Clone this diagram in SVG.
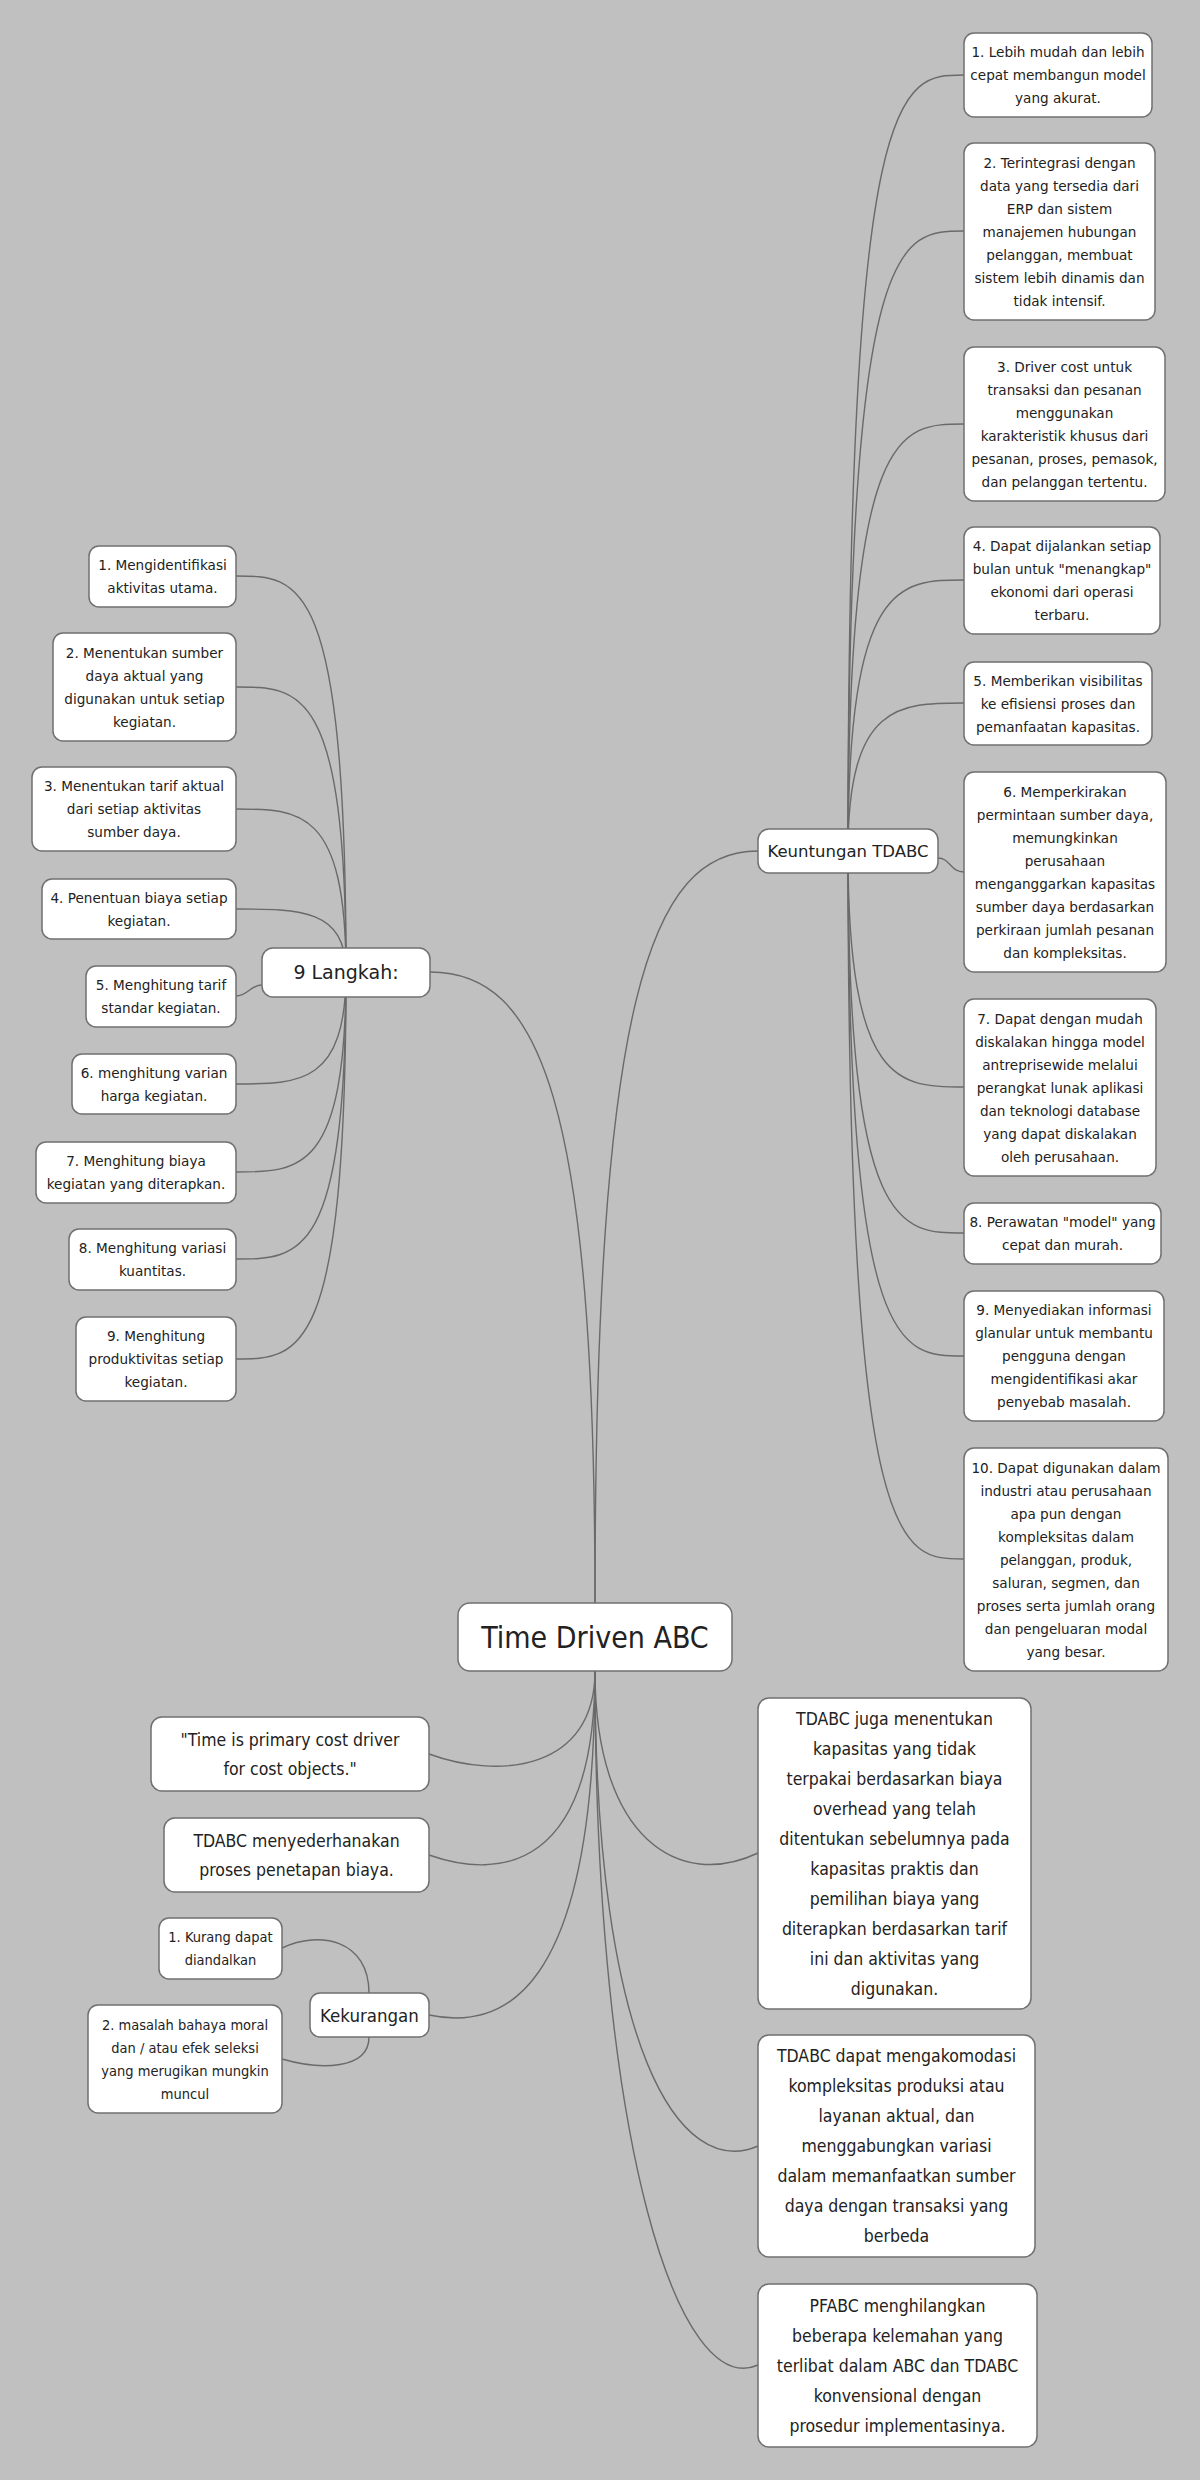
<svg xmlns="http://www.w3.org/2000/svg" width="1200" height="2480" viewBox="0 0 1200 2480">
<style>
.b{fill:#fff;stroke:#707070;stroke-width:1.5}
.c{fill:none;stroke:#6a6a6a;stroke-width:1.4}
.s{font-family:"DejaVu Sans",sans-serif;font-size:13.6px;fill:#222;text-anchor:middle}
.n{font-family:"DejaVu Sans Condensed","DejaVu Sans",sans-serif;font-size:17.5px;fill:#222;text-anchor:middle}
.k{font-family:"DejaVu Sans Condensed","DejaVu Sans",sans-serif;font-size:14.5px;fill:#222;text-anchor:middle}
</style>
<rect width="1200" height="2480" fill="#c0c0c0"/>
<g id="connectors">
<path class="c" d="M595 1603 C595 1000 650 851 758 851"/>
<path class="c" d="M595 1603 C595 1100 540 972 430 972"/>
<path class="c" d="M848 851 C848 75 900 75 964 75"/>
<path class="c" d="M848 851 C848 231 900 231 964 231"/>
<path class="c" d="M848 851 C848 424 900 424 964 424"/>
<path class="c" d="M848 851 C848 580 900 580 964 580"/>
<path class="c" d="M848 851 C848 703 900 703 964 703"/>
<path class="c" d="M938 858 C950 858 950 872 964 872"/>
<path class="c" d="M848 851 C848 1087 900 1087 964 1087"/>
<path class="c" d="M848 851 C848 1233 900 1233 964 1233"/>
<path class="c" d="M848 851 C848 1356 900 1356 964 1356"/>
<path class="c" d="M848 851 C848 1559 900 1559 964 1559"/>
<path class="c" d="M346 972 C346 576 300 576 236 576"/>
<path class="c" d="M346 972 C346 687 300 687 236 687"/>
<path class="c" d="M346 972 C346 809 300 809 236 809"/>
<path class="c" d="M346 972 C346 909 300 909 236 909"/>
<path class="c" d="M262 985 C250 985 248 996 236 996"/>
<path class="c" d="M346 972 C346 1084 300 1084 236 1084"/>
<path class="c" d="M346 972 C346 1172 300 1172 236 1172"/>
<path class="c" d="M346 972 C346 1259 300 1259 236 1259"/>
<path class="c" d="M346 972 C346 1359 300 1359 236 1359"/>
<path class="c" d="M595 1671 C595 1770 500 1780 429 1754"/>
<path class="c" d="M595 1671 C595 1870 500 1880 429 1855"/>
<path class="c" d="M595 1671 C595 2000 500 2030 429 2015"/>
<path class="c" d="M595 1671 C595 1840 680 1890 758 1853"/>
<path class="c" d="M595 1671 C595 2050 680 2180 758 2146"/>
<path class="c" d="M595 1671 C595 2150 680 2400 758 2365"/>
<path class="c" d="M369 1993 C369 1940 320 1930 282 1948"/>
<path class="c" d="M369 2037 C369 2070 320 2070 282 2059"/>
</g>
<g id="center"><rect class="b" x="458" y="1603" width="274" height="68" rx="12"/><text x="595" y="1648" font-family="DejaVu Sans Condensed,DejaVu Sans,sans-serif" font-size="30" fill="#222" text-anchor="middle">Time Driven ABC</text></g>
<g id="keuntungan"><rect class="b" x="758" y="829" width="180" height="44" rx="11"/><text x="848" y="857" font-family="DejaVu Sans,sans-serif" font-size="16.5" fill="#222" text-anchor="middle">Keuntungan TDABC</text></g>
<g id="langkah"><rect class="b" x="262" y="948" width="168" height="49" rx="11"/><text x="346" y="979" font-family="DejaVu Sans,sans-serif" font-size="19" fill="#222" text-anchor="middle">9 Langkah:</text></g>
<g id="r1"><rect class="b" x="964" y="33" width="188" height="84" rx="10"/><text class="s" x="1058" y="57">1. Lebih mudah dan lebih<tspan x="1058" dy="23">cepat membangun model</tspan><tspan x="1058" dy="23">yang akurat.</tspan></text></g>
<g id="r2"><rect class="b" x="964" y="143" width="191" height="177" rx="10"/><text class="s" x="1059.5" y="167.5">2. Terintegrasi dengan<tspan x="1059.5" dy="23">data yang tersedia dari</tspan><tspan x="1059.5" dy="23">ERP dan sistem</tspan><tspan x="1059.5" dy="23">manajemen hubungan</tspan><tspan x="1059.5" dy="23">pelanggan, membuat</tspan><tspan x="1059.5" dy="23">sistem lebih dinamis dan</tspan><tspan x="1059.5" dy="23">tidak intensif.</tspan></text></g>
<g id="r3"><rect class="b" x="964" y="347" width="201" height="154" rx="10"/><text class="s" x="1064.5" y="371.5">3. Driver cost untuk<tspan x="1064.5" dy="23">transaksi dan pesanan</tspan><tspan x="1064.5" dy="23">menggunakan</tspan><tspan x="1064.5" dy="23">karakteristik khusus dari</tspan><tspan x="1064.5" dy="23">pesanan, proses, pemasok,</tspan><tspan x="1064.5" dy="23">dan pelanggan tertentu.</tspan></text></g>
<g id="r4"><rect class="b" x="964" y="527" width="196" height="107" rx="10"/><text class="s" x="1062" y="551">4. Dapat dijalankan setiap<tspan x="1062" dy="23">bulan untuk "menangkap"</tspan><tspan x="1062" dy="23">ekonomi dari operasi</tspan><tspan x="1062" dy="23">terbaru.</tspan></text></g>
<g id="r5"><rect class="b" x="964" y="662" width="188" height="83" rx="10"/><text class="s" x="1058" y="685.5">5. Memberikan visibilitas<tspan x="1058" dy="23">ke efisiensi proses dan</tspan><tspan x="1058" dy="23">pemanfaatan kapasitas.</tspan></text></g>
<g id="r6"><rect class="b" x="964" y="772" width="202" height="200" rx="10"/><text class="s" x="1065" y="796.5">6. Memperkirakan<tspan x="1065" dy="23">permintaan sumber daya,</tspan><tspan x="1065" dy="23">memungkinkan</tspan><tspan x="1065" dy="23">perusahaan</tspan><tspan x="1065" dy="23">menganggarkan kapasitas</tspan><tspan x="1065" dy="23">sumber daya berdasarkan</tspan><tspan x="1065" dy="23">perkiraan jumlah pesanan</tspan><tspan x="1065" dy="23">dan kompleksitas.</tspan></text></g>
<g id="r7"><rect class="b" x="964" y="999" width="192" height="177" rx="10"/><text class="s" x="1060" y="1023.5">7. Dapat dengan mudah<tspan x="1060" dy="23">diskalakan hingga model</tspan><tspan x="1060" dy="23">antreprisewide melalui</tspan><tspan x="1060" dy="23">perangkat lunak aplikasi</tspan><tspan x="1060" dy="23">dan teknologi database</tspan><tspan x="1060" dy="23">yang dapat diskalakan</tspan><tspan x="1060" dy="23">oleh perusahaan.</tspan></text></g>
<g id="r8"><rect class="b" x="964" y="1203" width="197" height="61" rx="10"/><text class="s" x="1062.5" y="1227">8. Perawatan "model" yang<tspan x="1062.5" dy="23">cepat dan murah.</tspan></text></g>
<g id="r9"><rect class="b" x="964" y="1291" width="200" height="130" rx="10"/><text class="s" x="1064" y="1315">9. Menyediakan informasi<tspan x="1064" dy="23">glanular untuk membantu</tspan><tspan x="1064" dy="23">pengguna dengan</tspan><tspan x="1064" dy="23">mengidentifikasi akar</tspan><tspan x="1064" dy="23">penyebab masalah.</tspan></text></g>
<g id="r10"><rect class="b" x="964" y="1448" width="204" height="223" rx="10"/><text class="s" x="1066" y="1472.5">10. Dapat digunakan dalam<tspan x="1066" dy="23">industri atau perusahaan</tspan><tspan x="1066" dy="23">apa pun dengan</tspan><tspan x="1066" dy="23">kompleksitas dalam</tspan><tspan x="1066" dy="23">pelanggan, produk,</tspan><tspan x="1066" dy="23">saluran, segmen, dan</tspan><tspan x="1066" dy="23">proses serta jumlah orang</tspan><tspan x="1066" dy="23">dan pengeluaran modal</tspan><tspan x="1066" dy="23">yang besar.</tspan></text></g>
<g id="l1"><rect class="b" x="89" y="546" width="147" height="61" rx="10"/><text class="s" x="162.5" y="570">1. Mengidentifikasi<tspan x="162.5" dy="23">aktivitas utama.</tspan></text></g>
<g id="l2"><rect class="b" x="53" y="633" width="183" height="108" rx="10"/><text class="s" x="144.5" y="657.5">2. Menentukan sumber<tspan x="144.5" dy="23">daya aktual yang</tspan><tspan x="144.5" dy="23">digunakan untuk setiap</tspan><tspan x="144.5" dy="23">kegiatan.</tspan></text></g>
<g id="l3"><rect class="b" x="32" y="767" width="204" height="84" rx="10"/><text class="s" x="134" y="791">3. Menentukan tarif aktual<tspan x="134" dy="23">dari setiap aktivitas</tspan><tspan x="134" dy="23">sumber daya.</tspan></text></g>
<g id="l4"><rect class="b" x="42" y="879" width="194" height="60" rx="10"/><text class="s" x="139" y="902.5">4. Penentuan biaya setiap<tspan x="139" dy="23">kegiatan.</tspan></text></g>
<g id="l5"><rect class="b" x="86" y="966" width="150" height="61" rx="10"/><text class="s" x="161" y="990">5. Menghitung tarif<tspan x="161" dy="23">standar kegiatan.</tspan></text></g>
<g id="l6"><rect class="b" x="72" y="1054" width="164" height="60" rx="10"/><text class="s" x="154" y="1077.5">6. menghitung varian<tspan x="154" dy="23">harga kegiatan.</tspan></text></g>
<g id="l7"><rect class="b" x="36" y="1142" width="200" height="61" rx="10"/><text class="s" x="136" y="1166">7. Menghitung biaya<tspan x="136" dy="23">kegiatan yang diterapkan.</tspan></text></g>
<g id="l8"><rect class="b" x="69" y="1229" width="167" height="61" rx="10"/><text class="s" x="152.5" y="1253">8. Menghitung variasi<tspan x="152.5" dy="23">kuantitas.</tspan></text></g>
<g id="l9"><rect class="b" x="76" y="1317" width="160" height="84" rx="10"/><text class="s" x="156" y="1341">9. Menghitung<tspan x="156" dy="23">produktivitas setiap</tspan><tspan x="156" dy="23">kegiatan.</tspan></text></g>
<g id="quote"><rect class="b" x="151" y="1717" width="278" height="74" rx="11"/><text class="n" x="290" y="1745.5">"Time is primary cost driver<tspan x="290" dy="29">for cost objects."</tspan></text></g>
<g id="simplify"><rect class="b" x="164" y="1818" width="265" height="74" rx="11"/><text class="n" x="296.5" y="1846.5">TDABC menyederhanakan<tspan x="296.5" dy="29">proses penetapan biaya.</tspan></text></g>
<g id="kekurangan"><rect class="b" x="310" y="1993" width="119" height="44" rx="10"/><text x="369.5" y="2022" font-family="DejaVu Sans Condensed,DejaVu Sans,sans-serif" font-size="18.5" fill="#222" text-anchor="middle">Kekurangan</text></g>
<g id="k1"><rect class="b" x="159" y="1918" width="123" height="61" rx="10"/><text class="k" x="220.5" y="1942">1. Kurang dapat<tspan x="220.5" dy="23">diandalkan</tspan></text></g>
<g id="k2"><rect class="b" x="88" y="2005" width="194" height="108" rx="10"/><text class="k" x="185" y="2029.5">2. masalah bahaya moral<tspan x="185" dy="23">dan / atau efek seleksi</tspan><tspan x="185" dy="23">yang merugikan mungkin</tspan><tspan x="185" dy="23">muncul</tspan></text></g>
<g id="b1"><rect class="b" x="758" y="1698" width="273" height="311" rx="11"/><text class="n" x="894.5" y="1724.5">TDABC juga menentukan<tspan x="894.5" dy="30">kapasitas yang tidak</tspan><tspan x="894.5" dy="30">terpakai berdasarkan biaya</tspan><tspan x="894.5" dy="30">overhead yang telah</tspan><tspan x="894.5" dy="30">ditentukan sebelumnya pada</tspan><tspan x="894.5" dy="30">kapasitas praktis dan</tspan><tspan x="894.5" dy="30">pemilihan biaya yang</tspan><tspan x="894.5" dy="30">diterapkan berdasarkan tarif</tspan><tspan x="894.5" dy="30">ini dan aktivitas yang</tspan><tspan x="894.5" dy="30">digunakan.</tspan></text></g>
<g id="b2"><rect class="b" x="758" y="2035" width="277" height="222" rx="11"/><text class="n" x="896.5" y="2062">TDABC dapat mengakomodasi<tspan x="896.5" dy="30">kompleksitas produksi atau</tspan><tspan x="896.5" dy="30">layanan aktual, dan</tspan><tspan x="896.5" dy="30">menggabungkan variasi</tspan><tspan x="896.5" dy="30">dalam memanfaatkan sumber</tspan><tspan x="896.5" dy="30">daya dengan transaksi yang</tspan><tspan x="896.5" dy="30">berbeda</tspan></text></g>
<g id="b3"><rect class="b" x="758" y="2284" width="279" height="163" rx="11"/><text class="n" x="897.5" y="2311.5">PFABC menghilangkan<tspan x="897.5" dy="30">beberapa kelemahan yang</tspan><tspan x="897.5" dy="30">terlibat dalam ABC dan TDABC</tspan><tspan x="897.5" dy="30">konvensional dengan</tspan><tspan x="897.5" dy="30">prosedur implementasinya.</tspan></text></g>
</svg>
